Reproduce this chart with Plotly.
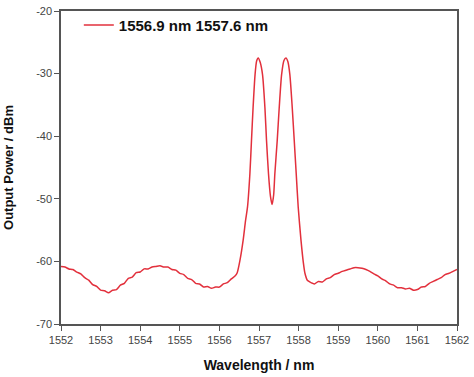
import plotly.graph_objects as go

wavelength_nm = [
    1552.0, 1552.1, 1552.2, 1552.3, 1552.4, 1552.5, 1552.6, 1552.7, 1552.8, 1552.9,
    1553.0, 1553.1, 1553.2, 1553.3, 1553.4, 1553.5, 1553.6, 1553.7, 1553.8, 1553.9,
    1554.0, 1554.1, 1554.2, 1554.3, 1554.4, 1554.5, 1554.6, 1554.7, 1554.8, 1554.9,
    1555.0, 1555.1, 1555.2, 1555.3, 1555.4, 1555.5, 1555.6, 1555.7, 1555.8, 1555.9,
    1556.0, 1556.1, 1556.2, 1556.3, 1556.4, 1556.45, 1556.52, 1556.6, 1556.66, 1556.71,
    1556.77, 1556.81, 1556.85, 1556.9, 1556.94, 1556.98, 1557.03, 1557.09, 1557.15,
    1557.19, 1557.24, 1557.29, 1557.33, 1557.37, 1557.4, 1557.46, 1557.51, 1557.57,
    1557.63, 1557.68, 1557.73, 1557.78, 1557.84, 1557.89, 1557.94, 1557.99, 1558.06,
    1558.12, 1558.16, 1558.22, 1558.29, 1558.35, 1558.4, 1558.5, 1558.6, 1558.7,
    1558.8, 1558.9, 1559.0, 1559.1, 1559.2, 1559.3, 1559.4, 1559.5, 1559.6, 1559.7,
    1559.8, 1559.9, 1560.0, 1560.1, 1560.2, 1560.3, 1560.4, 1560.5, 1560.6, 1560.7,
    1560.8, 1560.9, 1561.0, 1561.1, 1561.2, 1561.3, 1561.4, 1561.5, 1561.6, 1561.7,
    1561.8, 1561.9, 1562.0,
]

power_dbm = [
    -60.8, -60.9, -61.2, -61.3, -61.7, -62.0, -62.6, -63.0, -63.7, -64.0,
    -64.6, -64.7, -65.0, -64.6, -64.5, -63.8, -63.5, -62.7, -62.5, -61.8,
    -61.7, -61.2, -61.2, -60.9, -60.8, -60.7, -60.9, -60.9, -61.3, -61.4,
    -61.9, -62.1, -62.7, -62.9, -63.5, -63.6, -64.1, -64.0, -64.3, -64.1,
    -64.1, -63.6, -63.4, -62.8, -62.3, -61.8, -59.8, -56.6, -53.5, -51.3,
    -46.0, -40.7, -35.5, -30.2, -28.0, -27.5, -28.2, -30.2, -35.5,
    -40.7, -46.0, -49.6, -50.9, -49.4, -46.0, -40.7, -35.5, -30.2,
    -27.9, -27.5, -28.1, -30.2, -35.5, -40.7, -46.0, -51.3, -56.6,
    -60.2, -61.9, -63.0, -63.3, -63.5, -63.6, -63.2, -63.3, -62.8,
    -62.6, -62.1, -61.9, -61.6, -61.4, -61.2, -61.0, -61.0, -61.1, -61.3,
    -61.6, -62.0, -62.3, -62.8, -63.1, -63.6, -63.8, -64.2, -64.2, -64.4,
    -64.3, -64.6, -64.5, -64.1, -64.0, -63.5, -63.2, -62.9, -62.6, -62.1,
    -61.9, -61.6, -61.3,
]

x_ticks = [1552, 1553, 1554, 1555, 1556, 1557, 1558, 1559, 1560, 1561, 1562]
y_ticks = [-70, -60, -50, -40, -30, -20]
y_tick_labels = ["-70", "-60", "-50", "-40", "-30", "-20"]
series_name = "<b>1556.9 nm 1557.6 nm</b>"

FONT = "Liberation Sans, Arial, sans-serif"

fig = go.Figure()
fig.add_trace(go.Scatter(
    x=wavelength_nm, y=power_dbm, mode="lines", name=series_name,
    line=dict(color="#e2303c", width=1.5, shape="spline", smoothing=0.6),
))

axis_common = dict(
    showline=True, linecolor="#555555", linewidth=1.5, mirror=True,
    ticks="outside", ticklen=5, tickwidth=1, tickcolor="#555555",
    showgrid=False, zeroline=False, automargin=False,
    tickfont=dict(family=FONT, size=11, color="#444444"),
)

fig.update_layout(
    width=474, height=377,
    margin=dict(l=61, r=17, t=9, b=53),
    paper_bgcolor="white", plot_bgcolor="white",
    showlegend=True,
    legend=dict(x=0.045, y=1.007, xanchor="left", yanchor="top",
                bgcolor="rgba(0,0,0,0)",
                font=dict(family=FONT, size=15, color="#111111")),
    xaxis=dict(range=[1552, 1562], tickvals=x_ticks,
               title=dict(text="<b>Wavelength / nm</b>", standoff=15,
                          font=dict(family=FONT, size=14, color="#111111")),
               **axis_common),
    yaxis=dict(range=[-70, -20], tickvals=y_ticks, ticktext=y_tick_labels,
               title=dict(text="<b>Output Power / dBm</b>", standoff=20,
                          font=dict(family=FONT, size=13, color="#111111")),
               **axis_common),
)

fig.write_html("out.html", config={"displayModeBar": False},
               post_script="document.body.style.margin='0';")
